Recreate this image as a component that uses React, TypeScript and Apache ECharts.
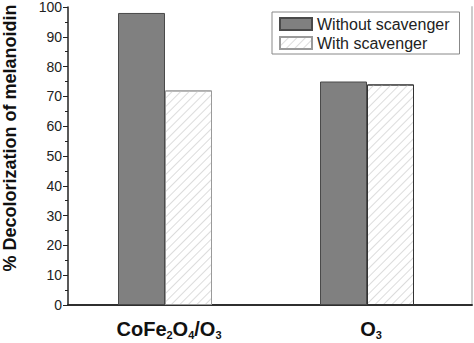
import React, { useEffect, useRef } from "react";
import * as echarts from "echarts";

const categories = ["CoFe2O4/O3", "O3"];
const withoutScavenger = [98, 75];
const withScavenger = [72, 74];
const yTicks = { min: 0, max: 100, interval: 10 };
const seriesNames = ["Without scavenger", "With scavenger"];
const yTitle = "% Decolorization of melanoidin";

const catLabel = (v: string) => {
  if (v === "CoFe2O4/O3") return "{b|CoFe}{s|2}{b|O}{s|4}{b|/O}{s|3}";
  if (v === "O3") return "{b|O}{s|3}";
  return v;
};

export default function App() {
  const ref = useRef<HTMLDivElement>(null);
  useEffect(() => {
    if (!ref.current) return;
    const chart = echarts.init(ref.current, null, { renderer: "svg" });
    const font = "Liberation Sans, Arial, sans-serif";
    chart.setOption({
      animation: false,
      backgroundColor: "#fff",
      grid: {
        left: 68,
        top: 7,
        right: 2,
        bottom: 38,
        containLabel: false,
        outerBoundsMode: "none",
      },
      legend: {
        data: seriesNames,
        orient: "vertical",
        left: 272,
        top: 12,
        icon: "rect",
        itemWidth: 32,
        itemHeight: 12,
        itemGap: 3,
        padding: [4, 10, 3, 7],
        borderColor: "#888",
        borderWidth: 1,
        textStyle: { fontFamily: font, fontSize: 16, color: "#222" },
        selectedMode: false,
      },
      xAxis: [
        {
          type: "category",
          data: categories,
          axisLine: { lineStyle: { color: "#222", width: 1.5 } },
          axisTick: { show: false },
          axisLabel: {
            interval: 0,
            hideOverlap: false,
            margin: 12,
            formatter: catLabel,
            rich: {
              b: { fontFamily: font, fontWeight: "bold", fontSize: 20, color: "#111" },
              s: {
                fontFamily: font,
                fontWeight: "bold",
                fontSize: 11,
                color: "#111",
                padding: [12, 0, 0, 0],
              },
            },
          },
        },
        {
          type: "category",
          data: categories,
          position: "top",
          axisLine: { lineStyle: { color: "#222", width: 1.5 } },
          axisTick: { show: false },
          axisLabel: { show: false },
        },
      ],
      yAxis: [
        {
          type: "value",
          min: yTicks.min,
          max: yTicks.max,
          interval: yTicks.interval,
          axisLine: { show: true, lineStyle: { color: "#222", width: 1.5 } },
          axisTick: { show: true, length: 5, lineStyle: { color: "#222" } },
          minorTick: { show: true, splitNumber: 2, length: 3, lineStyle: { color: "#222" } },
          splitLine: { show: false },
          axisLabel: { fontFamily: font, fontSize: 14, color: "#222", margin: 6 },
        },
        {
          type: "value",
          min: yTicks.min,
          max: yTicks.max,
          position: "right",
          axisLine: { show: true, lineStyle: { color: "#ccc", width: 2 } },
          axisTick: { show: false },
          splitLine: { show: false },
          axisLabel: { show: false },
        },
      ],
      series: [
        {
          name: seriesNames[0],
          type: "bar",
          barWidth: 47,
          barGap: 0,
          data: withoutScavenger,
          itemStyle: { color: "#808080", borderColor: "#4a4a4a", borderWidth: 1 },
        },
        {
          name: seriesNames[1],
          type: "bar",
          barWidth: 47,
          barGap: 0,
          data: withScavenger.map((v, i) => ({
            value: v,
            itemStyle: { borderColor: i === 0 ? "#9a9a9a" : "#333" },
          })),
          itemStyle: {
            color: "#fff",
            borderColor: "#9a9a9a",
            borderWidth: 1,
            decal: {
              symbol: "rect",
              color: "#dcdcdc",
              dashArrayX: [1, 0],
              dashArrayY: [1, 5],
              rotation: -Math.PI / 4,
            },
          },
        },
        {
          name: "_pad",
          type: "bar",
          barWidth: 8,
          barGap: 0,
          silent: true,
          data: [0, 0],
          itemStyle: { color: "rgba(0,0,0,0)" },
        },
      ],
      graphic: [
        {
          type: "text",
          x: 10,
          y: 138,
          rotation: Math.PI / 2,
          style: {
            text: yTitle,
            fontFamily: font,
            fontWeight: "bold",
            fontSize: 18,
            fill: "#111",
            textAlign: "center",
            textVerticalAlign: "middle",
          },
        },
      ],
    });
    return () => chart.dispose();
  }, []);
  return <div ref={ref} style={{ width: 474, height: 343, position: "absolute", left: 0, top: 0 }} />;
}
